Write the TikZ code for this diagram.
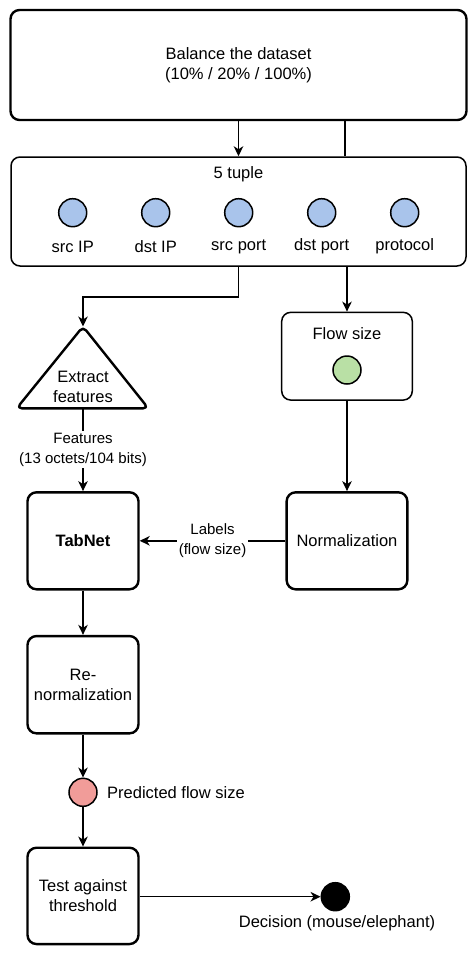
\documentclass[tikz,border=0pt]{standalone}
\usepackage{fontspec}
\setmainfont{Liberation Sans}
\usetikzlibrary{arrows.meta}

\tikzset{
	box/.style={draw, line width=2.4pt, rounded corners=9pt, align=center, inner sep=0pt,
		font=\fontsize{16.5}{20}\selectfont},
	thinbox/.style={box, line width=1.5pt},
	dot/.style={circle, draw, line width=1.5pt, minimum size=28pt, inner sep=0pt},
	txt/.style={align=center, inner sep=1pt, font=\fontsize{16.5}{20}\selectfont},
	lbl/.style={align=center, fill=white, inner sep=2pt, font=\fontsize{15}{20}\selectfont},
	conn/.style={line width=1.5pt, -{Stealth[length=10pt, width=9.5pt, inset=3pt]}},
	line/.style={line width=1.5pt}
}

\definecolor{tupleblue}{HTML}{A9C4EB}
\definecolor{flowgreen}{HTML}{B9E0A5}
\definecolor{predred}{HTML}{F19C99}

\begin{document}
\begin{tikzpicture}[x=1pt, y=-1pt]
	\useasboundingbox (0,0) rectangle (474,954);

	% dataset and 5 tuple
	\node[box, minimum width=456pt, minimum height=110pt] (balance) at (238.5,65) {Balance the dataset\\(10\% / 20\% / 100\%)};
	\node[thinbox, minimum width=455pt, minimum height=109pt] (tuple) at (238.5,211.5) {};
	\node[txt] (tupletitle) at (238.5,174.3) {5 tuple};

	\node[dot, fill=tupleblue] (srcip) at (72.7,212.7) {};
	\node[dot, fill=tupleblue] (dstip) at (155.7,212.7) {};
	\node[dot, fill=tupleblue] (srcport) at (238.7,212.7) {};
	\node[dot, fill=tupleblue] (dstport) at (321.7,212.7) {};
	\node[dot, fill=tupleblue] (proto) at (404.7,212.7) {};
	\node[txt] at (72.7,246.7) {src IP};
	\node[txt] at (155.7,246.7) {dst IP};
	\node[txt] at (238.7,246.7) {src port};
	\node[txt] at (321.7,246.7) {dst port};
	\node[txt] at (404.7,246.7) {protocol};

	% extract features (triangle)
	\coordinate (apex) at (83,326.5);
	\coordinate (baseleft) at (16.7,408.3);
	\coordinate (baseright) at (148.3,408.3);
	\coordinate (base) at (83,408.3);
	\draw[line width=2.4pt, rounded corners=5pt, line join=round] (apex) -- (baseright) -- (baseleft) -- cycle;
	\node[txt] (extract) at (83,386.7) {Extract\\features};

	% flow size
	\node[thinbox, minimum width=130.6pt, minimum height=87.7pt] (flow) at (347,356.2) {};
	\node[txt] (flowtitle) at (347,333.3) {Flow size};
	\node[dot, fill=flowgreen] (flowdot) at (347,370) {};

	% learning
	\node[box, minimum width=111pt, minimum height=97pt, font=\fontsize{16.5}{20}\selectfont\bfseries] (tabnet) at (83,540.8) {TabNet};
	\node[box, minimum width=120.7pt, minimum height=97pt] (norm) at (347,540.8) {Normalization};
	\node[box, minimum width=111pt, minimum height=97.3pt] (renorm) at (83,684.7) {Re-\\normalization};
	\node[dot, fill=predred] (pred) at (83,792.3) {};
	\node[txt, anchor=west] (predlabel) at (106,792.3) {Predicted flow size};
	\node[box, minimum width=111pt, minimum height=96.3pt] (test) at (83,895.9) {Test against\\threshold};
	\node[dot, fill=black] (decision) at (335.3,896.7) {};
	\node[txt] (decisionlabel) at (337,923.3) {Decision (mouse/elephant)};

	% connectors
	\draw[conn] (balance.south -| tupletitle) -- (tuple.north -| tupletitle);
	\draw[line] (balance.south -| 345,0) -- (tuple.north -| 345,0);
	\draw[conn] (tuple.south) |- (83,297) -- (apex);
	\draw[conn] (tuple.south -| flow.north) -- (flow.north);
	\draw[conn] (base) -- node[lbl] {Features\\(13 octets/104 bits)} (tabnet.north);
	\draw[conn] (flow.south) -- (norm.north);
	\draw[conn] (norm.west) -- node[lbl] {Labels\\(flow size)} (tabnet.east);
	\draw[conn] (tabnet.south) -- (renorm.north);
	\draw[conn] (renorm.south) -- (pred.north);
	\draw[conn] (pred.south) -- (test.north);
	\draw[conn] (test.east |- decision) -- (decision.west);
\end{tikzpicture}
\end{document}
